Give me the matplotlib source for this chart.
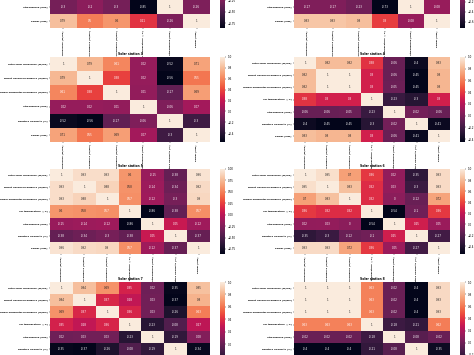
import matplotlib
matplotlib.use("Agg")
import matplotlib.pyplot as plt
import seaborn as sns
import numpy as np
import pandas as pd

# variable names
TSI = "Total solar irradiance (W/m2)"
DNI = "Direct normal irradiance (W/m2)"
GHI = "Global horizontal irradiance (W/m2)"
AIR = "Air temperature  (°C)"
ATM = "Atmosphere (hpa)"
RH = "Relative humidity (%)"
PWR = "Power (MW)"

# station 1 and 2: only the last two rows are in view
cols_1 = [TSI, DNI, GHI, AIR, ATM, PWR]
rows_1 = [ATM, PWR]
corr_1 = [[-0.30, -0.20, -0.30, -0.85, 1, -0.26],
          [0.79, 0.50, 0.60, 0.21, -0.26, 1]]
range_1 = (-0.85, 1.0)

cols_2 = [TSI, DNI, GHI, AIR, ATM, PWR]
rows_2 = [ATM, PWR]
corr_2 = [[-0.17, -0.17, -0.23, -0.73, 1, -0.08],
          [0.83, 0.83, 0.80, 0.30, -0.08, 1]]
range_2 = (-0.73, 1.0)

cols_3 = [TSI, DNI, GHI, ATM, RH, PWR]
corr_3 = [[1, 0.79, 0.61, 0.02, -0.52, 0.71],
          [0.79, 1, 0.38, 0.02, -0.56, 0.55],
          [0.61, 0.38, 1, 0.01, -0.17, 0.69],
          [0.02, 0.02, 0.01, 1, -0.06, 0.07],
          [-0.52, -0.56, -0.17, -0.06, 1, -0.30],
          [0.71, 0.55, 0.69, 0.07, -0.30, 1]]

cols_4 = [TSI, DNI, GHI, AIR, ATM, RH, PWR]
corr_4 = [[1, 0.82, 0.82, 0.38, -0.06, -0.40, 0.83],
          [0.82, 1, 1, 0.30, -0.06, -0.45, 0.80],
          [0.82, 1, 1, 0.30, -0.05, -0.45, 0.80],
          [0.38, 0.30, 0.30, 1, -0.23, -0.30, 0.30],
          [-0.06, -0.06, -0.05, -0.23, 1, -0.02, -0.06],
          [-0.40, -0.45, -0.45, -0.30, -0.02, 1, -0.41],
          [0.83, 0.80, 0.80, 0.30, -0.06, -0.41, 1]]

cols_5 = [TSI, DNI, GHI, AIR, ATM, RH, PWR]
corr_5 = [[1, 0.93, 0.93, 0.60, -0.15, -0.38, 0.96],
          [0.93, 1, 0.88, 0.58, -0.14, -0.34, 0.92],
          [0.93, 0.88, 1, 0.57, -0.12, -0.30, 0.90],
          [0.60, 0.58, 0.57, 1, -0.86, -0.38, 0.57],
          [-0.15, -0.14, -0.12, -0.86, 1, 0.05, -0.12],
          [-0.38, -0.34, -0.30, -0.38, 0.05, 1, -0.37],
          [0.96, 0.92, 0.90, 0.57, -0.12, -0.37, 1]]

cols_6 = [TSI, DNI, GHI, AIR, ATM, RH, PWR]
corr_6 = [[1, 0.95, 0.70, 0.36, 0.02, -0.35, 0.93],
          [0.95, 1, 0.83, 0.32, 0.03, -0.30, 0.93],
          [0.70, 0.83, 1, 0.32, 0.00, -0.12, 0.72],
          [0.36, 0.32, 0.32, 1, -0.54, -0.10, 0.36],
          [0.02, 0.03, 0.00, -0.54, 1, 0.25, 0.05],
          [-0.35, -0.30, -0.12, -0.10, 0.25, 1, -0.27],
          [0.93, 0.93, 0.72, 0.36, 0.05, -0.27, 1]]

cols_7 = [TSI, DNI, GHI, AIR, ATM, RH, PWR]
corr_7 = [[1, 0.84, 0.69, 0.35, 0.02, -0.35, 0.85],
          [0.84, 1, 0.37, 0.28, 0.03, -0.37, 0.80],
          [0.69, 0.37, 1, 0.36, 0.03, -0.26, 0.63],
          [0.35, 0.28, 0.36, 1, -0.23, -0.08, 0.27],
          [0.02, 0.03, 0.03, -0.23, 1, -0.19, 0.08],
          [-0.35, -0.37, -0.26, -0.08, -0.19, 1, -0.34],
          [0.85, 0.80, 0.63, 0.27, 0.08, -0.34, 1]]

cols_8 = [TSI, DNI, GHI, AIR, ATM, RH, PWR]
corr_8 = [[1, 1, 1, 0.63, -0.02, -0.40, 0.93],
          [1, 1, 1, 0.63, -0.02, -0.40, 0.93],
          [1, 1, 1, 0.63, -0.02, -0.40, 0.93],
          [0.63, 0.63, 0.63, 1, -0.18, -0.21, 0.62],
          [-0.02, -0.02, -0.02, -0.18, 1, -0.08, -0.02],
          [-0.40, -0.40, -0.40, -0.21, -0.08, 1, -0.35],
          [0.93, 0.93, 0.93, 0.62, -0.02, -0.35, 1]]

W, H = 474, 355
fig = plt.figure(figsize=(W / 100, H / 100), dpi=100)


def px_axes(x0, y0, w, h):
    # pixel box (top-left origin) -> figure fraction
    return fig.add_axes([x0 / W, 1 - (y0 + h) / H, w / W, h / H])


col_x = [(50, 160, 220), (294, 156, 460)]   # heatmap left, width, colorbar left
row_top = [-57, 57, 169, 282]
panel_h = 85


def draw(num, data, rows, cols, r, c, vrange=None, n_full=None):
    hx, hw, cx = col_x[c]
    top = row_top[r]
    n_full = n_full or len(rows)
    cell = panel_h / n_full
    hy = top + (n_full - len(rows)) * cell
    ax = px_axes(hx, hy, hw, cell * len(rows))
    cax = px_axes(cx, top, 5, panel_h)
    df = pd.DataFrame(data, index=rows, columns=cols)
    kw = {}
    if vrange is not None:
        kw = dict(vmin=vrange[0], vmax=vrange[1])
    sns.heatmap(df, ax=ax, cbar_ax=cax, annot=True, fmt=".2g",
                annot_kws={"size": 2}, xticklabels=cols, yticklabels=rows, **kw)
    ax.tick_params(length=1, width=0.3, pad=0.8)
    ax.set_xticklabels(cols, rotation=90, fontsize=1.75, fontweight="bold")
    ax.set_yticklabels(rows, rotation=0, fontsize=1.75, fontweight="bold")
    cax.tick_params(labelsize=2, length=1, width=0.3, pad=0.8)
    if n_full == len(rows):
        ax.set_title("Solar station %d" % num, fontsize=2.2, fontweight="bold", pad=1.5)


draw(1, corr_1, rows_1, cols_1, 0, 0, range_1, n_full=6)
draw(2, corr_2, rows_2, cols_2, 0, 1, range_2, n_full=6)
draw(3, corr_3, cols_3, cols_3, 1, 0)
draw(4, corr_4, cols_4, cols_4, 1, 1)
draw(5, corr_5, cols_5, cols_5, 2, 0)
draw(6, corr_6, cols_6, cols_6, 2, 1)
draw(7, corr_7, cols_7, cols_7, 3, 0)
draw(8, corr_8, cols_8, cols_8, 3, 1)

fig.savefig("out.png", dpi=100)
